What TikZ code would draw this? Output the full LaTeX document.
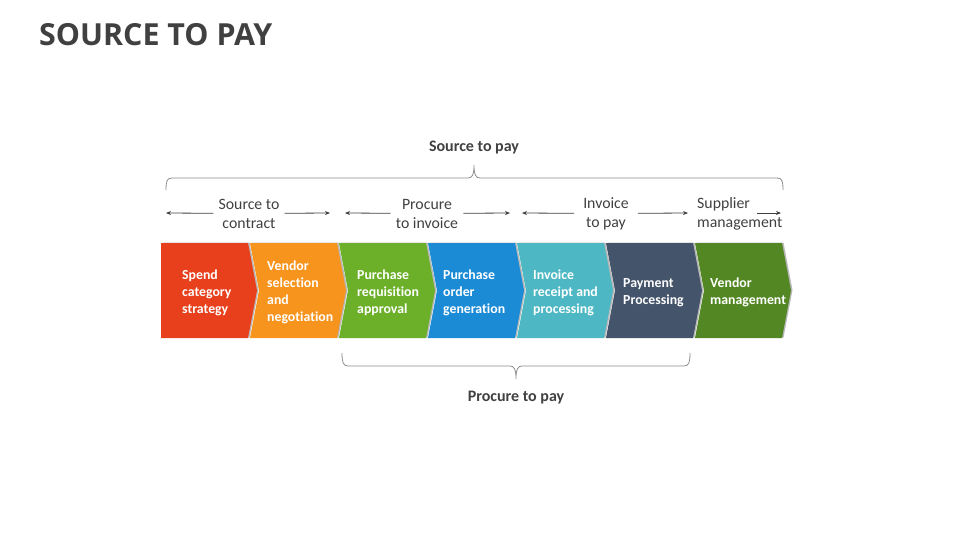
\documentclass[tikz,border=0pt]{standalone}
\usepackage{fontspec}
\setmainfont{Carlito}[Ligatures=NoCommon]
\newfontfamily\titlefont{Open Sans}
\usepackage{tikz}
\usetikzlibrary{arrows.meta}

\definecolor{darktext}{HTML}{404040}
\definecolor{bracegray}{HTML}{8C8C8C}
\definecolor{spendred}{HTML}{E8401C}
\definecolor{vendororange}{HTML}{F7941E}
\definecolor{reqgreen}{HTML}{6CB02A}
\definecolor{orderblue}{HTML}{1C8BD6}
\definecolor{invteal}{HTML}{4DB8C3}
\definecolor{payslate}{HTML}{44546A}
\definecolor{mgmtgreen}{HTML}{538723}

\tikzset{
  chevron/.style={
    fill=#1,
    preaction={fill=black!28, transform canvas={shift={(1.5pt,0.5pt)}}}},
  stagetext/.style={
    anchor=west, align=left, inner sep=0pt, text=white,
    font=\fontsize{13.8}{17}\selectfont\bfseries},
  phaselabel/.style={
    align=center, inner xsep=5pt, inner ysep=2pt, text=darktext,
    font=\fontsize{15.8}{19}\selectfont},
  bracelabel/.style={
    text=darktext, font=\fontsize{16}{19}\selectfont\bfseries},
  phasearrow/.style={
    draw=darktext, line width=0.8pt,
    -{Stealth[length=5pt,width=4pt]}},
  bracket/.style={
    draw=bracegray, line width=0.8pt}
}

\begin{document}
\begin{tikzpicture}[x=1pt,y=-1pt]
  \useasboundingbox
    (0,0)
    rectangle
    (960,540);
  \node[anchor=base west, inner sep=0pt, text=darktext,
    font=\titlefont\fontsize{30.4}{36}\selectfont\bfseries]
    (title) at (39,46) {SOURCE TO PAY};
  % chevrons
  \fill[chevron=spendred]
    (161,243) -- (248,243) -- (257,290.5) -- (248,338) -- (161,338) -- cycle;
  \fill[chevron=vendororange]
    (250,243) -- (337,243) -- (346,290.5) -- (337,338) -- (250,338) -- (259,290.5) -- cycle;
  \fill[chevron=reqgreen]
    (339,243) -- (426,243) -- (435,290.5) -- (426,338) -- (339,338) -- (348,290.5) -- cycle;
  \fill[chevron=orderblue]
    (428,243) -- (515,243) -- (524,290.5) -- (515,338) -- (428,338) -- (437,290.5) -- cycle;
  \fill[chevron=invteal]
    (517,243) -- (604,243) -- (613,290.5) -- (604,338) -- (517,338) -- (526,290.5) -- cycle;
  \fill[chevron=payslate]
    (606,243) -- (693,243) -- (702,290.5) -- (693,338) -- (606,338) -- (615,290.5) -- cycle;
  \fill[chevron=mgmtgreen]
    (695,243) -- (782,243) -- (791,290.5) -- (782,338) -- (695,338) -- (704,290.5) -- cycle;
  \node[stagetext] (spend) at (182,292.5) {Spend\\category\\strategy};
  \node[stagetext] (vendorsel) at (267,292.5) {Vendor\\selection\\and\\negotiation};
  \node[stagetext] (purchreq) at (357,292.5) {Purchase\\requisition\\approval};
  \node[stagetext] (purchorder) at (443,292.5) {Purchase\\order\\generation};
  \node[stagetext] (invrec) at (533,292.5) {Invoice\\receipt and\\processing};
  \node[stagetext] (payproc) at (623,292.5) {Payment\\Processing};
  \node[stagetext] (vendormgmt) at (710,292.5) {Vendor\\management};
  % phase labels and arrows
  \node[phaselabel] (srccontract) at (249,213.5) {Source to\\contract};
  \node[phaselabel] (procinvoice) at (427,213.5) {Procure\\to invoice};
  \node[phaselabel, inner xsep=9pt] (invpay) at (606,213.5) {Invoice\\to pay};
  \node[phaselabel, anchor=west, align=left, inner xsep=0pt]
    (suppmgmt) at (697,213.5) {Supplier\\management};
  \coordinate (srccontractL) at (166,213);
  \coordinate (srccontractR) at (330,213);
  \coordinate (procinvoiceL) at (345,213);
  \coordinate (procinvoiceR) at (510,213);
  \coordinate (invpayL) at (522,213);
  \coordinate (invpayR) at (688,213);
  \coordinate (suppmgmtA) at (757,213);
  \coordinate (suppmgmtB) at (781,213);
  \draw[phasearrow] (srccontract) -- (srccontractL);
  \draw[phasearrow] (srccontract) -- (srccontractR);
  \draw[phasearrow] (procinvoice) -- (procinvoiceL);
  \draw[phasearrow] (procinvoice) -- (procinvoiceR);
  \draw[phasearrow] (invpay) -- (invpayL);
  \draw[phasearrow] (invpay) -- (invpayR);
  \draw[phasearrow] (suppmgmtA) -- (suppmgmtB);
  % braces
  \node[bracelabel] (sourcepay) at (474,148) {Source to pay};
  \draw[bracket]
    (166,190) .. controls (166,181) and (167,178) .. (172,178)
    -- (468,178) .. controls (472,178) and (474,175) .. (474,165)
    .. controls (474,175) and (476,178) .. (480,178)
    -- (777,178) .. controls (782,178) and (783,181) .. (783,190);
  \draw[bracket]
    (342,353) .. controls (342,362) and (343,366) .. (348,366)
    -- (510,366) .. controls (514,366) and (516,369) .. (516,379)
    .. controls (516,369) and (518,366) .. (522,366)
    -- (684,366) .. controls (689,366) and (690,362) .. (690,353);
  \node[bracelabel] (procurepay) at (516,397.5) {Procure to pay};
\end{tikzpicture}
\end{document}
